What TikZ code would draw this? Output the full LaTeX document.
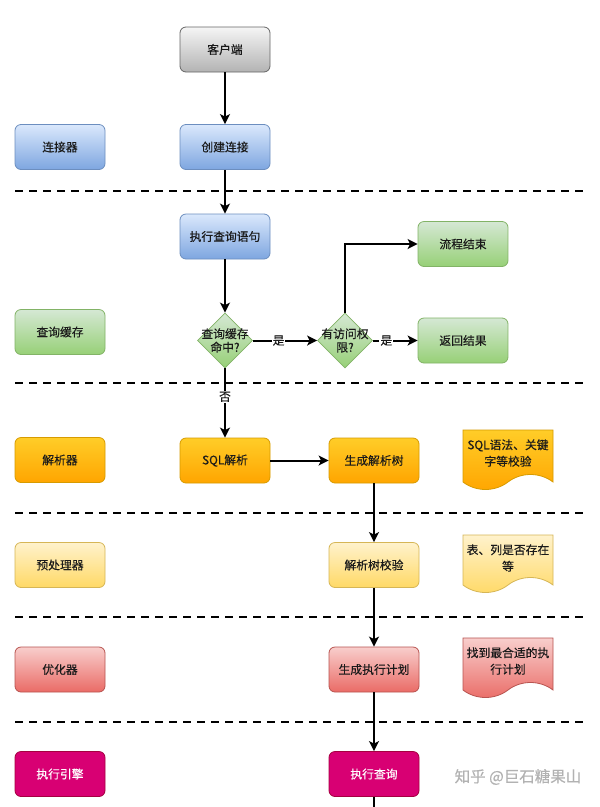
\documentclass[tikz,border=0pt]{standalone}
\usepackage{fontspec}
\setmainfont{Noto Sans CJK SC}[FakeBold=0.35]
\usetikzlibrary{arrows.meta,shapes.geometric}
\definecolor{grayT}{HTML}{F5F5F5}\definecolor{grayB}{HTML}{B3B3B3}\definecolor{grayS}{HTML}{666666}
\definecolor{blueT}{HTML}{DAE8FC}\definecolor{blueB}{HTML}{7EA6E0}\definecolor{blueS}{HTML}{6C8EBF}
\definecolor{greenT}{HTML}{D5E8D4}\definecolor{greenB}{HTML}{97D077}\definecolor{greenS}{HTML}{82B366}
\definecolor{orT}{HTML}{FFCD28}\definecolor{orB}{HTML}{FFA500}\definecolor{orS}{HTML}{D79B00}
\definecolor{yelT}{HTML}{FFF2CC}\definecolor{yelB}{HTML}{FFD966}\definecolor{yelS}{HTML}{D6B656}
\definecolor{redT}{HTML}{F8CECC}\definecolor{redB}{HTML}{EA6B66}\definecolor{redS}{HTML}{B85450}
\definecolor{magF}{HTML}{D80073}\definecolor{magS}{HTML}{A50040}
\definecolor{txt}{HTML}{1A1A1A}
\begin{document}
\begin{tikzpicture}[x=1pt,y=-1pt,
  font=\fontsize{11.8}{16.5}\selectfont, text=txt,
  box/.style={rounded corners=6pt, minimum width=90pt, minimum height=45pt, inner sep=0pt, line width=0.8pt, align=center},
  graybox/.style={box, draw=grayS, top color=grayT, bottom color=grayB},
  bluebox/.style={box, draw=blueS, top color=blueT, bottom color=blueB},
  greenbox/.style={box, draw=greenS, top color=greenT, bottom color=greenB},
  orbox/.style={box, draw=orS, top color=orT, bottom color=orB},
  yelbox/.style={box, draw=yelS, top color=yelT, bottom color=yelB},
  redbox/.style={box, draw=redS, top color=redT, bottom color=redB},
  magbox/.style={box, draw=magS, fill=magF, text=white},
  dia/.style={diamond, minimum width=55pt, minimum height=55pt, inner sep=0pt, line width=0.8pt, draw=greenS, top color=greenT, bottom color=greenB},
  diatext/.style={align=center, font=\fontsize{11.8}{13.5}\selectfont},
  notetext/.style={align=center},
  arr/.style={line width=2pt, -{Stealth[length=10pt,width=10pt,inset=2.5pt]}},
  plain/.style={line width=2pt},
  sepline/.style={line width=2.4pt, dash pattern=on 8pt off 6pt},
  lbl/.style={fill=white, inner sep=1pt, text=txt},
  notepath/.style={line width=0.8pt}
]
\fill[white] (0,0) rectangle (600,807);
\useasboundingbox (0,0) rectangle (600,807);

% separators
\foreach \yy in {191,383,513,617,722}
  \draw[sepline] (15,\yy) -- (585,\yy);

% left labels
\node[bluebox] (lconn) at (60,147) {连接器};
\node[greenbox] (lcache) at (60,332) {查询缓存};
\node[orbox] (lparse) at (60,460) {解析器};
\node[yelbox] (lpre) at (60,565) {预处理器};
\node[redbox] (lopt) at (60,669.5) {优化器};
\node[magbox] (lexec) at (60,774) {执行引擎};

% main flow
\node[graybox] (client) at (225,49.5) {客户端};
\node[bluebox] (conn) at (225,147) {创建连接};
\node[bluebox] (query) at (225,236.5) {执行查询语句};
\node[dia] (d1) at (225,340.5) {};
\node[diatext] (d1t) at (d1.center) {查询缓存\\命中?};
\node[dia] (d2) at (345,340.5) {};
\node[diatext] (d2t) at (d2.center) {有访问权\\限?};
\node[greenbox] (fin) at (463,244) {流程结束};
\node[greenbox] (ret) at (463,340.5) {返回结果};
\node[orbox] (sql) at (225,460.5) {SQL解析};
\node[orbox] (tree) at (374,460.5) {生成解析树};
\node[yelbox] (check) at (374,565) {解析树校验};
\node[redbox] (plan) at (374,669.5) {生成执行计划};
\node[magbox] (exq) at (374,774) {执行查询};
\coordinate (bottomend) at (374,815);

% notes
\begin{scope}[shift={(463,430)}]
  \path[notepath, draw=orS, top color=orT, bottom color=orB]
    (0,0) -- (90,0) -- (90,52) .. controls (77,42) and (58,42) .. (45,52)
    .. controls (32,62) and (13,62) .. (0,52) -- cycle;
\end{scope}
\node[notetext] (n1) at (508,453) {SQL语法、关键\\字等校验};
\begin{scope}[shift={(463,535)}]
  \path[notepath, draw=yelS, top color=yelT, bottom color=yelB]
    (0,0) -- (90,0) -- (90,50) .. controls (77,40) and (58,40) .. (45,50)
    .. controls (32,60) and (13,60) .. (0,50) -- cycle;
\end{scope}
\node[notetext] (n2) at (508,558) {表、列是否存在\\等};
\begin{scope}[shift={(463,638)}]
  \path[notepath, draw=redS, top color=redT, bottom color=redB]
    (0,0) -- (90,0) -- (90,52) .. controls (77,42) and (58,42) .. (45,52)
    .. controls (32,62) and (13,62) .. (0,52) -- cycle;
\end{scope}
\node[notetext] (n3) at (508,661) {找到最合适的执\\行计划};

% connectors
\draw[arr] (client.south) -- (conn.north);
\draw[arr] (conn.south) -- (query.north);
\draw[arr] (query.south) -- (d1.north);
\draw[arr] (d1.east) -- node[lbl, pos=0.4] {是} (d2.west);
\draw[arr] (d2.north) |- (fin.west);
\draw[arr] (d2.east) -- node[lbl, pos=0.3] {是} (ret.west);
\draw[arr] (d1.south) -- node[lbl, pos=0.41] {否} (sql.north);
\draw[arr] (sql.east) -- (tree.west);
\draw[arr] (tree.south) -- (check.north);
\draw[arr] (check.south) -- (plan.north);
\draw[arr] (plan.south) -- (exq.north);
\draw[plain] (exq.south) -- (bottomend);

% watermark
\node[text=black!30, font=\fontsize{15.5}{18}\selectfont] (wm) at (518,777) {知乎 @巨石糖果山};
\end{tikzpicture}
\end{document}
